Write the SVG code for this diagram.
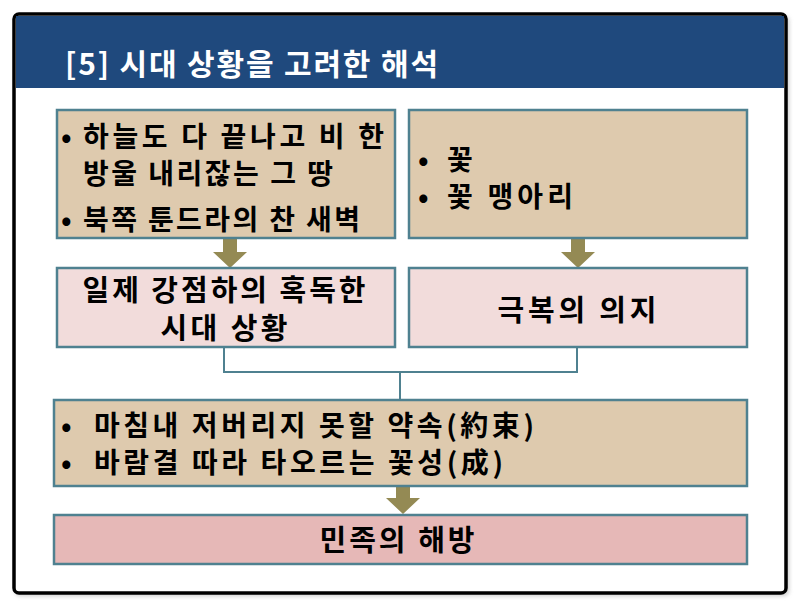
<svg xmlns="http://www.w3.org/2000/svg" width="800" height="608" viewBox="0 0 800 608">
<style>
  .t{font-family:"Noto Sans CJK KR","Noto Sans",sans-serif;font-weight:700;fill:#000;}
  .w{fill:#fff;}
  .tan{fill:#DECAAE;stroke:#4F8190;stroke-width:2.5;}
  .lp{fill:#F2DCDB;stroke:#4F8190;stroke-width:2.5;}
  .dp{fill:#E6B8B7;stroke:#4F8190;stroke-width:2.5;}
  .ar{fill:#948A54;}
  .ln{fill:none;stroke:#4F8190;stroke-width:2;}
</style>
<defs>
  <filter id="sh" x="-5%" y="-5%" width="110%" height="110%">
    <feGaussianBlur stdDeviation="2"/>
  </filter>
</defs>
<rect width="800" height="608" fill="#fff"/>
<g id="frame">
  <rect x="15" y="16" width="774" height="580" rx="5" fill="#999" opacity="0.5" filter="url(#sh)"/>
  <rect x="14" y="14" width="772" height="579" rx="5" fill="#fff" stroke="#000" stroke-width="3.5"/>
  <rect x="16" y="16" width="768" height="72" fill="#1F497D"/>
  <text class="t w" x="65" y="75" font-size="30" textLength="373">[5] 시대 상황을 고려한 해석</text>
</g>
<g id="connectors">
  <polygon class="ar" points="223,238 237,238 237,252 247,252 230,268 213,252 223,252"/>
  <polygon class="ar" points="571,238 585,238 585,252 595,252 578,268 561,252 571,252"/>
  <polygon class="ar" points="396,486 410,486 410,498 420,498 403,514 386,498 396,498"/>
  <polyline class="ln" points="224,347 224,372 577,372 577,347"/>
  <line class="ln" x1="400" y1="372" x2="400" y2="400"/>
</g>
<g id="box1">
  <rect class="tan" x="57" y="110" width="338" height="128"/>
  <text class="t" x="61" y="147" font-size="28">•</text>
  <text class="t" x="83" y="147" font-size="28" textLength="301">하늘도 다 끝나고 비 한</text>
  <text class="t" x="83" y="184" font-size="28" textLength="250">방울 내리잖는 그 땅</text>
  <text class="t" x="61" y="230" font-size="28">•</text>
  <text class="t" x="83" y="230" font-size="28" textLength="277">북쪽 툰드라의 찬 새벽</text>
</g>
<g id="box2">
  <rect class="tan" x="409" y="110" width="338" height="128"/>
  <text class="t" x="418" y="170" font-size="28">•</text>
  <text class="t" x="447" y="170" font-size="28">꽃</text>
  <text class="t" x="418" y="207" font-size="28">•</text>
  <text class="t" x="447" y="207" font-size="28" textLength="126">꽃 맹아리</text>
</g>
<g id="box3">
  <rect class="lp" x="57" y="268" width="338" height="79"/>
  <text class="t" x="224" y="301" font-size="29" text-anchor="middle" textLength="283">일제 강점하의 혹독한</text>
  <text class="t" x="224" y="339" font-size="29" text-anchor="middle" textLength="127">시대 상황</text>
</g>
<g id="box4">
  <rect class="lp" x="409" y="268" width="338" height="79"/>
  <text class="t" x="577" y="321" font-size="29" text-anchor="middle" textLength="159">극복의 의지</text>
</g>
<g id="box5">
  <rect class="tan" x="54" y="400" width="693" height="86"/>
  <text class="t" x="61" y="436" font-size="28">•</text>
  <text class="t" x="94" y="436" font-size="28" textLength="440">마침내 저버리지 못할 약속(約束)</text>
  <text class="t" x="61" y="473" font-size="28">•</text>
  <text class="t" x="94" y="473" font-size="28" textLength="409">바람결 따라 타오르는 꽃성(成)</text>
</g>
<g id="box6">
  <rect class="dp" x="54" y="515" width="693" height="49"/>
  <text class="t" x="397" y="551" font-size="29" text-anchor="middle" textLength="155">민족의 해방</text>
</g>
</svg>
